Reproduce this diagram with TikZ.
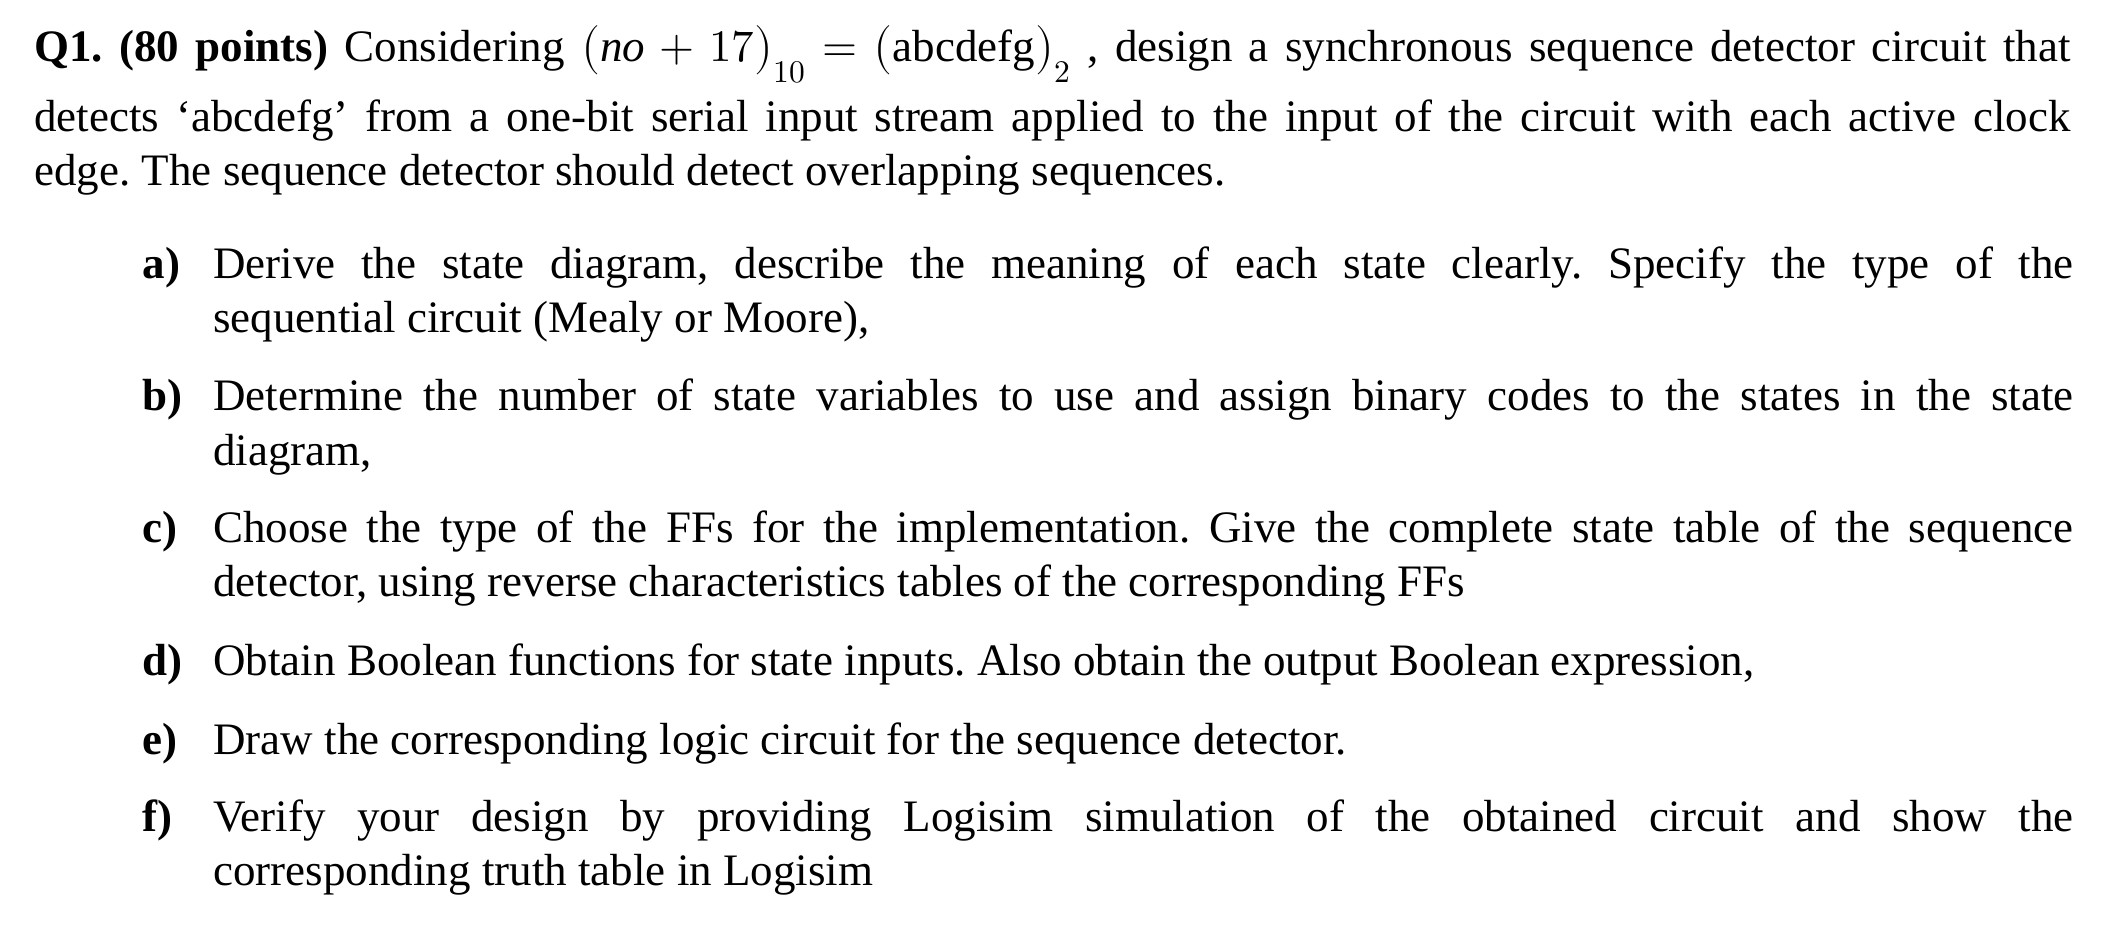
\documentclass[tikz,border=0pt]{standalone}
\usepackage{fontspec}
\setmainfont{Liberation Serif}
\usepackage{amsmath}
\usepackage{unicode-math}
\setmathfont{Latin Modern Math}
\frenchspacing
\begin{document}
\begin{tikzpicture}[x=0.678pt,y=-0.678pt,
  ln/.style={anchor=base west,inner sep=0pt,font=\fontsize{22.5}{27}\selectfont\frenchspacing}]
\useasboundingbox (0,0) rectangle (1550,686);
\def\fw{1018pt}
\def\iw{930pt}
\node[ln] (l1) at (25,45) {\makebox[\fw][s]{\textbf{Q1. (80 points)} Considering $\bigl(\mathit{no}+17\bigr)_{10}\!=\!\bigl(\mathrm{abcdefg}\bigr)_2$ , design a synchronous sequence detector circuit that}};
\node[ln] (l2) at (25,97) {\makebox[\fw][s]{detects ‘abcdefg’ from a one-bit serial input stream applied to the input of the circuit with each active clock}};
\node[ln] (l3) at (25,137) {edge. The sequence detector should detect overlapping sequences.};
\node[ln] (a) at (105,205) {\textbf{a)}};
\node[ln] (a1) at (157,205) {\makebox[\iw][s]{Derive the state diagram, describe the meaning of each state clearly. Specify the type of the}};
\node[ln] (a2) at (157,245) {sequential circuit (Mealy or Moore),};
\node[ln] (b) at (105,303) {\textbf{b)}};
\node[ln] (b1) at (157,303) {\makebox[\iw][s]{Determine the number of state variables to use and assign binary codes to the states in the state}};
\node[ln] (b2) at (157,343) {diagram,};
\node[ln] (c) at (105,400) {\textbf{c)}};
\node[ln] (c1) at (157,400) {\makebox[\iw][s]{Choose the type of the FFs for the implementation. Give the complete state table of the sequence}};
\node[ln] (c2) at (157,440) {detector, using reverse characteristics tables of the corresponding FFs};
\node[ln] (d) at (105,498) {\textbf{d)}};
\node[ln] (d1) at (157,498) {Obtain Boolean functions for state inputs. Also obtain the output Boolean expression,};
\node[ln] (e) at (105,556) {\textbf{e)}};
\node[ln] (e1) at (157,556) {Draw the corresponding logic circuit for the sequence detector.};
\node[ln] (f) at (105,613) {\textbf{f)}};
\node[ln] (f1) at (157,613) {\makebox[\iw][s]{Verify your design by providing Logisim simulation of the obtained circuit and show the}};
\node[ln] (f2) at (157,653) {corresponding truth table in Logisim};
\end{tikzpicture}
\end{document}
